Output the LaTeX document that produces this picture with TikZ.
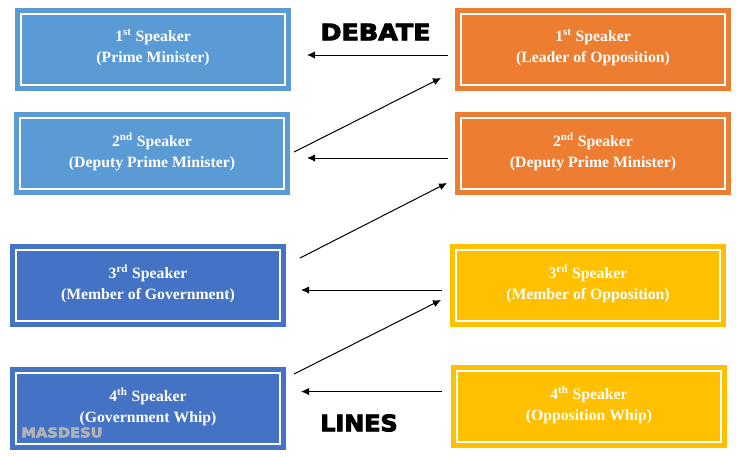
\documentclass[tikz,border=0pt]{standalone}
\usepackage{fontspec}
\usepackage{tikz}
\usetikzlibrary{arrows.meta}
\setmainfont{Liberation Serif}
\newfontfamily\blockfont[FakeBold=4]{DejaVu Sans Bold}
\definecolor{govlight}{HTML}{5B9BD5}
\definecolor{govdark}{HTML}{4472C4}
\definecolor{oppdark}{HTML}{ED7D31}
\definecolor{opplight}{HTML}{FFC000}
\newcommand{\speaker}[3]{#1\textsuperscript{#2} Speaker\\(#3)\\[-10.5pt]}
\tikzset{
  speakerbox/.style={draw=#1,fill=#1,double=white,double distance=1.5pt,line width=3.75pt,
    minimum width=198pt,minimum height=53.25pt,inner sep=0pt,outer sep=0pt,align=center,
    text=white,font=\fontsize{11.8}{15.75}\selectfont\bfseries},
  debateline/.style={-{Latex[length=6pt,width=5.5pt]},line width=0.75pt,black},
  blocktext/.style={inner sep=0pt,font=\blockfont\fontsize{#1}{#1}\selectfont}
}
\begin{document}
\begin{tikzpicture}[x=0.75pt,y=-0.75pt]
\useasboundingbox (0,0) rectangle (736,455);

\node[speakerbox=govlight] (gov1) at (153,49.5) {\speaker{1}{st}{Prime Minister}};
\node[speakerbox=govlight] (gov2) at (152,153.5) {\speaker{2}{nd}{Deputy Prime Minister}};
\node[speakerbox=govdark] (gov3) at (148,285.5) {\speaker{3}{rd}{Member of Government}};
\node[speakerbox=govdark] (gov4) at (148,408.5) {\speaker{4}{th}{Government Whip}};

\node[speakerbox=oppdark] (opp1) at (593,49.5) {\speaker{1}{st}{Leader of Opposition}};
\node[speakerbox=oppdark] (opp2) at (593,153.5) {\speaker{2}{nd}{Deputy Prime Minister}};
\node[speakerbox=opplight] (opp3) at (588,285.5) {\speaker{3}{rd}{Member of Opposition}};
\node[speakerbox=opplight] (opp4) at (589,406.5) {\speaker{4}{th}{Opposition Whip}};

\node[blocktext=17,xscale=1.12] (debate) at (375.5,32) {DEBATE};
\node[blocktext=17,xscale=1.05] (lines) at (359,423) {LINES};
\node[blocktext=10,text=black!30,xscale=1.1] (watermark) at (62,432.5) {MASDESU};

\draw[debateline] ([shift={(-13,5.5)}]opp1.west) -- ([shift={(22,5.5)}]gov1.east);
\draw[debateline] ([shift={(-13,4.5)}]opp2.west) -- ([shift={(23,4.5)}]gov2.east);
\draw[debateline] ([shift={(-14,4.5)}]opp3.west) -- ([shift={(21,4.5)}]gov3.east);
\draw[debateline] ([shift={(-15,-15)}]opp4.west) -- ([shift={(21,-17)}]gov4.east);

\draw[debateline] ([shift={(10,-1.5)}]gov2.east) -- ([shift={(-20,28.5)}]opp1.west);
\draw[debateline] ([shift={(20,-27.5)}]gov3.east) -- ([shift={(-14,29.5)}]opp2.west);
\draw[debateline] ([shift={(14,-34.5)}]gov4.east) -- ([shift={(-15,14.5)}]opp3.west);

\end{tikzpicture}
\end{document}
